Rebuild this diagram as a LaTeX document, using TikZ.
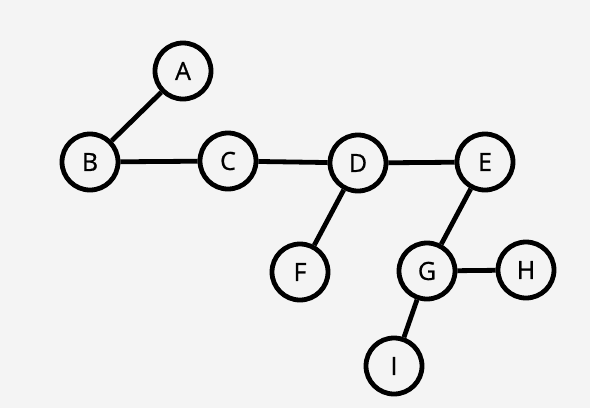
\documentclass[tikz,border=0pt]{standalone}
\usepackage{fontspec}
\setmainfont{Open Sans}
\newfontfamily\labfont{Open Sans}[FakeBold=0.8]
\definecolor{bg}{RGB}{244,244,244}
\begin{document}
\begin{tikzpicture}[x=1pt,y=-1pt,
  vertex/.style={circle,draw=black,line width=4.8pt,minimum size=56pt,inner sep=0pt,font=\labfont\fontsize{25}{25}\selectfont},
  edge/.style={line width=4.8pt,black}]
\fill[bg] (0,0) rectangle (590,408);
\useasboundingbox (0,0) rectangle (590,408);
\node[vertex] (A) at (183,71) {A};
\node[vertex] (B) at (90,162) {B};
\node[vertex] (C) at (228,161) {C};
\node[vertex] (D) at (358,163) {D};
\node[vertex] (E) at (485,162) {E};
\node[vertex] (F) at (300,272) {F};
\node[vertex] (G) at (427,271) {G};
\node[vertex] (H) at (526,270) {H};
\node[vertex] (I) at (394,366) {I};
\draw[edge] (A) -- (B);
\draw[edge] (B) -- (C);
\draw[edge] (C) -- (D);
\draw[edge] (D) -- (E);
\draw[edge] (D) -- (F);
\draw[edge] (E) -- (G);
\draw[edge] (G) -- (H);
\draw[edge] (G) -- (I);
\end{tikzpicture}
\end{document}
